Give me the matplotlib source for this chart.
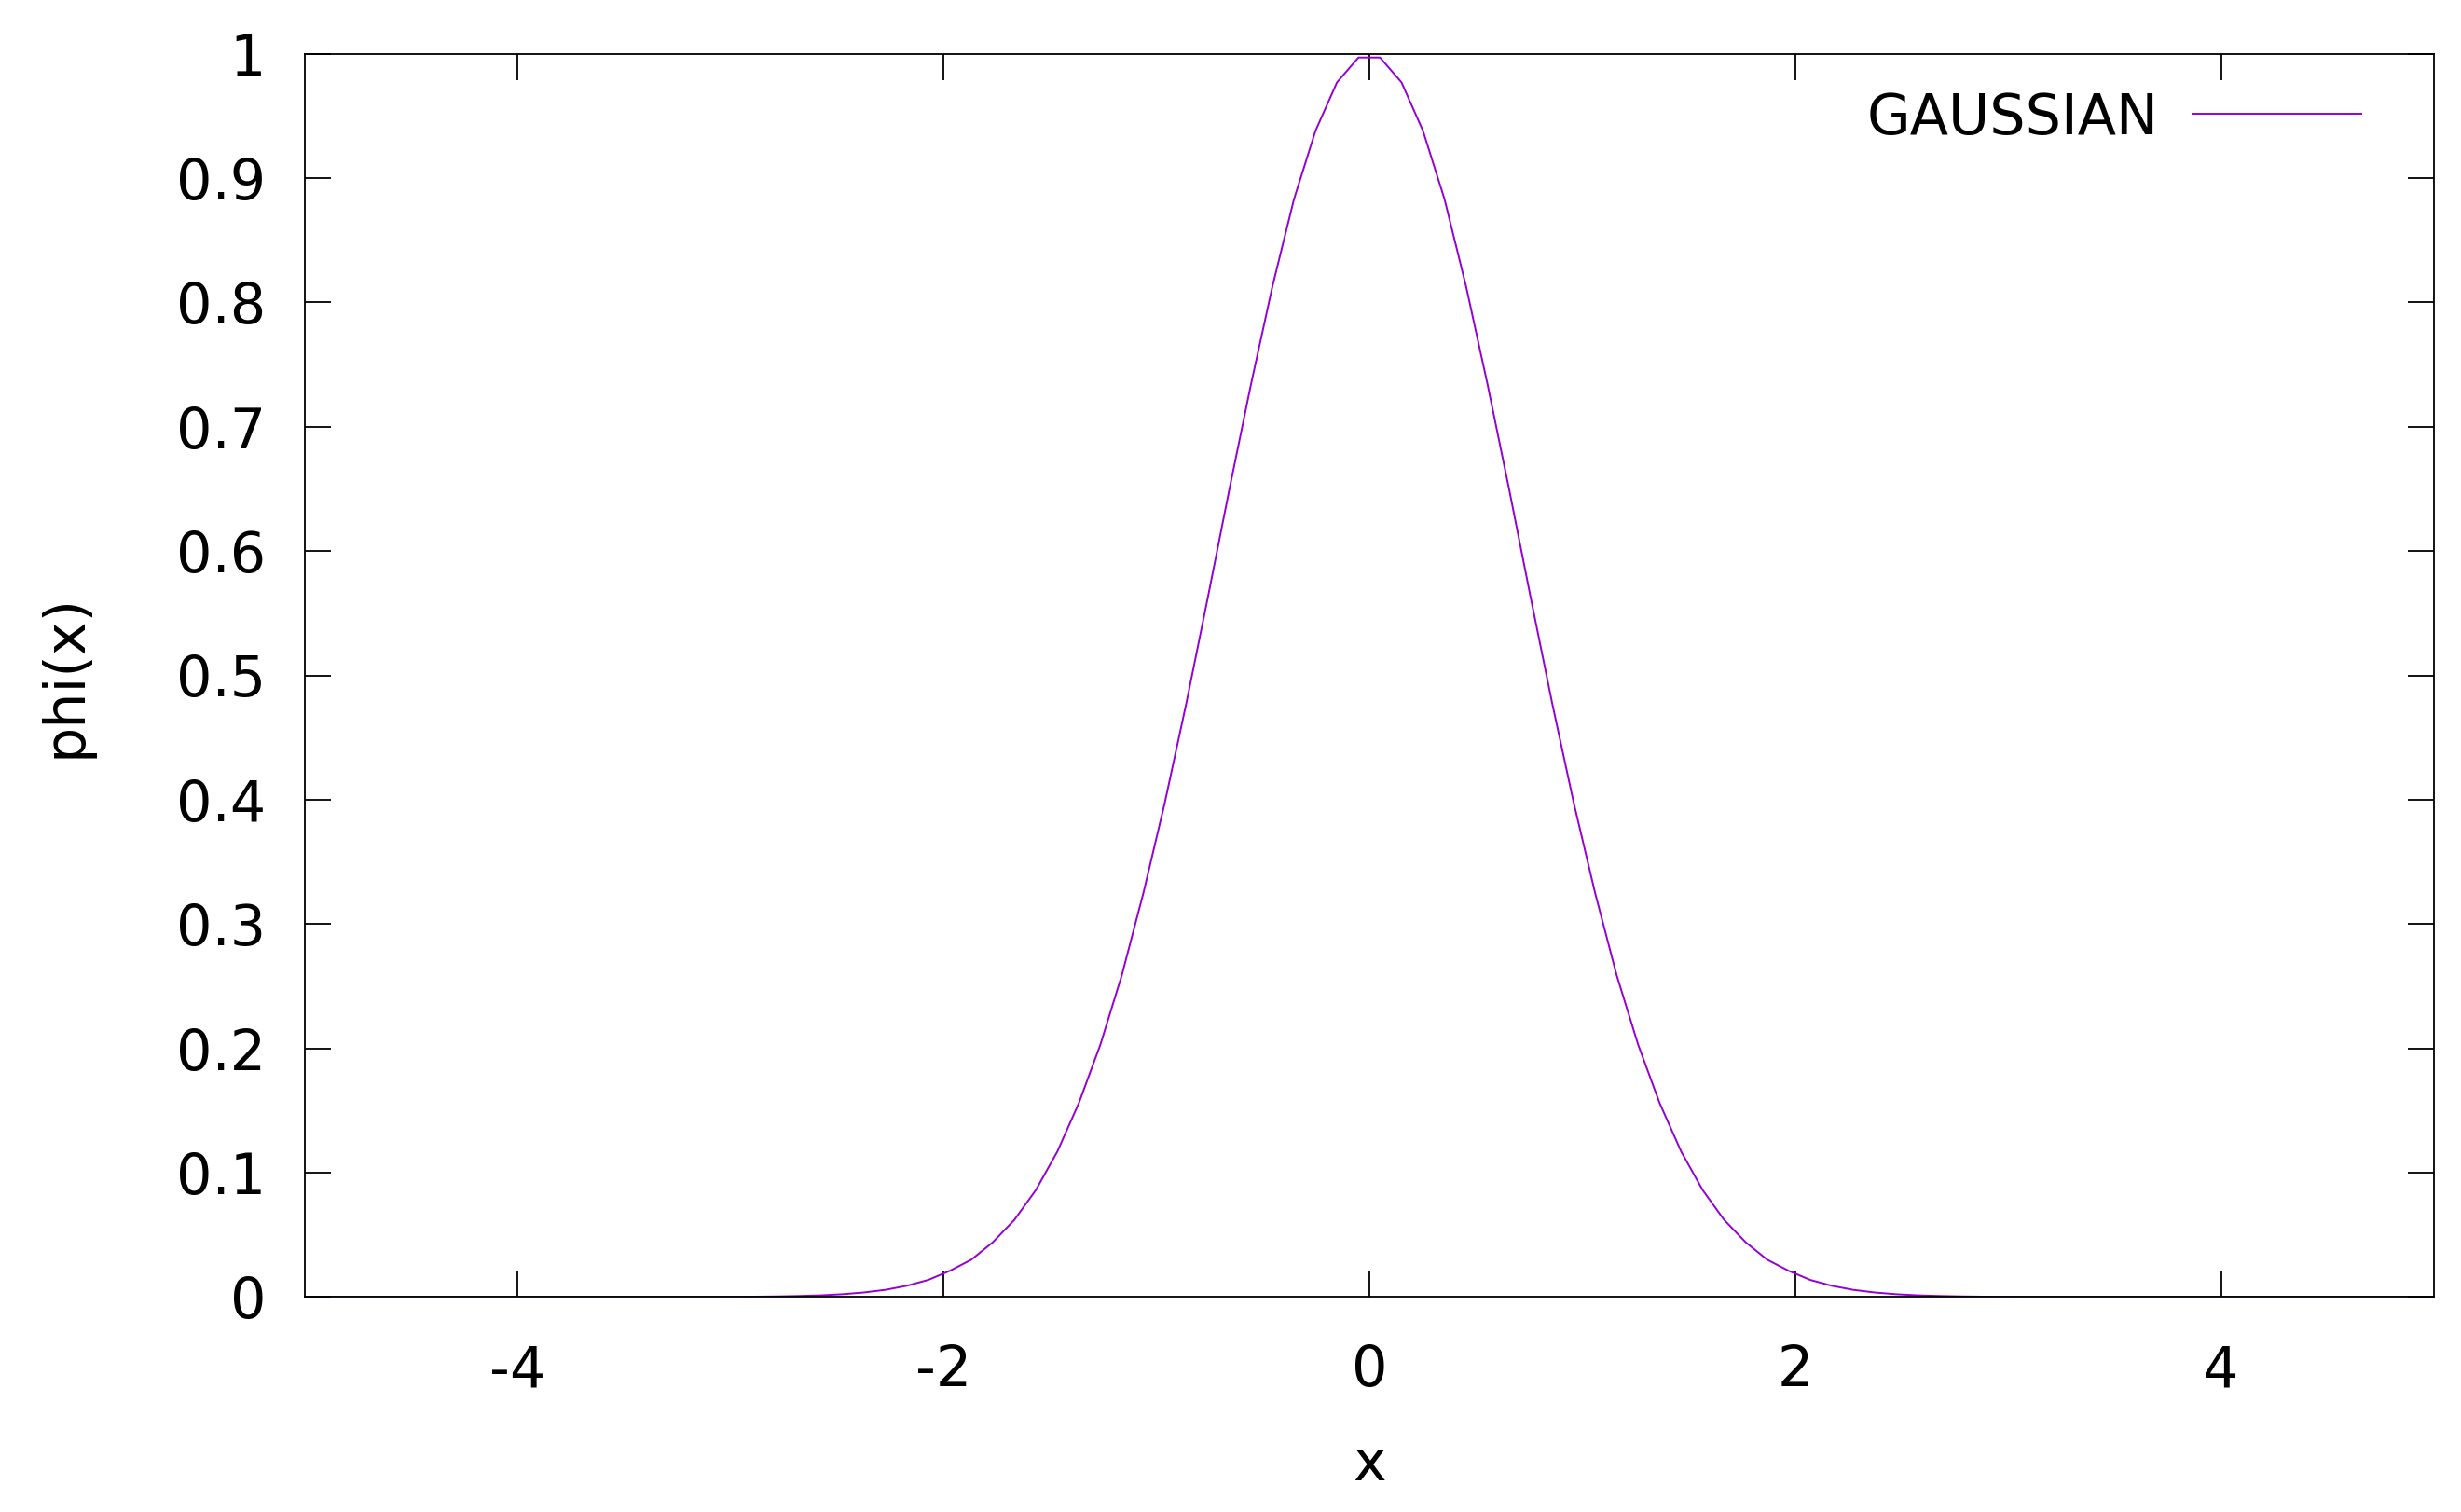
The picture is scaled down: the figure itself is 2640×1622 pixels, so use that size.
import matplotlib
matplotlib.use("Agg")
import matplotlib.pyplot as plt
import numpy as np

# gnuplot style sampling: 100 points over [-5, 5]
x_min, x_max = -5, 5
n_samples = 100

# phi(x), right half (x >= 0.05); left half is the mirror
phi_right = [0.997, 0.977, 0.938, 0.883, 0.813, 0.734, 0.650, 0.563, 0.478, 0.398,
             0.325, 0.259, 0.203, 0.156, 0.117, 0.086, 0.062, 0.044, 0.030, 0.021,
             0.0137, 0.0090, 0.0057, 0.0036, 0.0022, 0.0013, 0.0008, 0.00045, 0.00025, 0.00014,
             0.0, 0.0, 0.0, 0.0, 0.0, 0.0, 0.0, 0.0, 0.0, 0.0,
             0.0, 0.0, 0.0, 0.0, 0.0, 0.0, 0.0, 0.0, 0.0, 0.0]
phi_left = phi_right[::-1]

xs = np.linspace(x_min, x_max, n_samples)
phi = np.array(phi_left + phi_right)

x_ticks = [-4, -2, 0, 2, 4]
y_ticks = [0, 0.1, 0.2, 0.3, 0.4, 0.5, 0.6, 0.7, 0.8, 0.9, 1]
y_tick_labels = ["0", "0.1", "0.2", "0.3", "0.4", "0.5", "0.6", "0.7", "0.8", "0.9", "1"]

W, H = 2640, 1622
fig = plt.figure(figsize=(W / 100, H / 100), dpi=100)
plt.rcParams['font.family'] = ['DejaVu Sans']
fs = 43.5

left, right, top, bottom = 326.7, 2611, 57.7, 1391.3
ax = fig.add_axes([left / W, 1 - bottom / H, (right - left) / W, (bottom - top) / H])

ax.plot(xs, phi, color="#9400D3", lw=1.4, label="GAUSSIAN")

ax.set_xlim(x_min, x_max)
ax.set_ylim(0, 1)
ax.set_xticks(x_ticks)
ax.set_xticklabels([str(t) for t in x_ticks])
ax.set_yticks(y_ticks)
ax.set_yticklabels(y_tick_labels)

for s in ax.spines.values():
    s.set_linewidth(1.3)
ax.tick_params(direction="in", length=20, width=1.3, labelsize=fs,
               top=True, right=True)
ax.tick_params(axis="x", pad=36)
ax.tick_params(axis="y", pad=30)

ax.set_xlabel("x", fontsize=fs, labelpad=30)
ax.set_ylabel("phi(x)", fontsize=fs, labelpad=64)

ax.legend(loc="center right", bbox_to_anchor=(0.979, 0.948), frameon=False,
          markerfirst=False, fontsize=fs, borderpad=0, handlelength=3.0,
          handletextpad=0.6)

fig.savefig("out.png", dpi=100)
